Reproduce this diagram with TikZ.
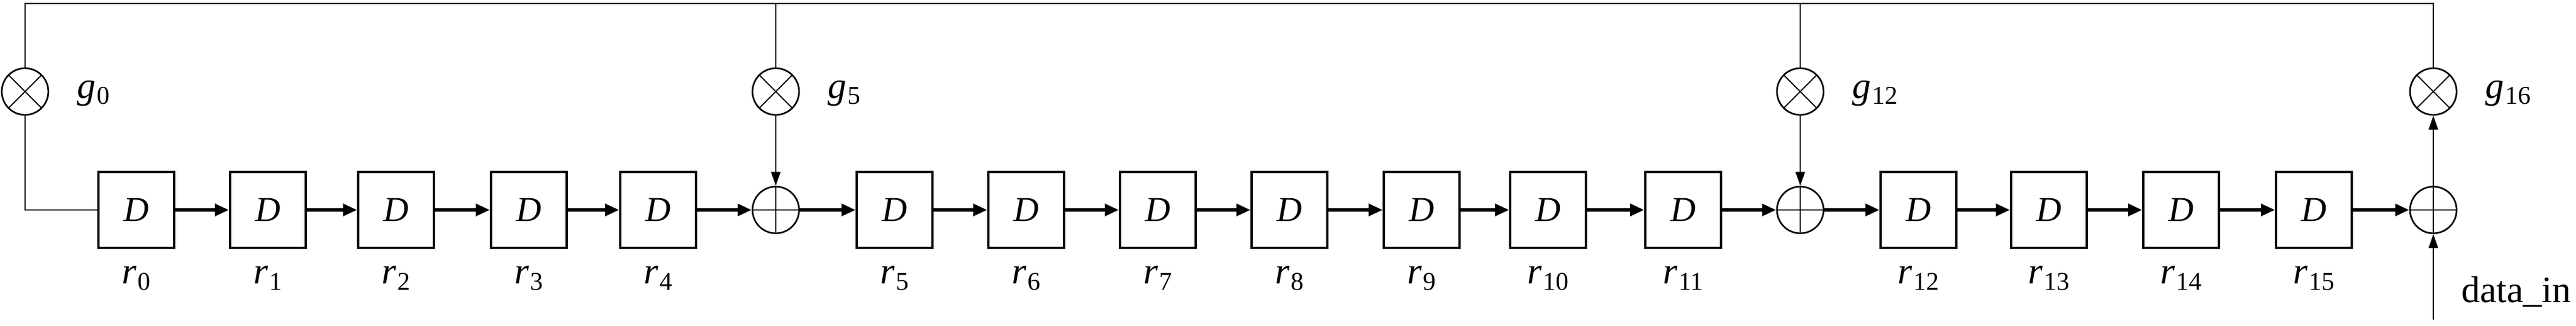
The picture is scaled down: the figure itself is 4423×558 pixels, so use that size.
\documentclass[tikz,border=0pt]{standalone}
\usepackage{fontspec}
\setmainfont{Liberation Serif}
\usetikzlibrary{arrows.meta}
\newcommand{\sublbl}[2]{\textit{#1}\kern0.5pt\raisebox{-0.35ex}{\fontsize{11}{11}\selectfont #2}}
\begin{document}
\begin{tikzpicture}[x=0.25pt,y=-0.25pt,
  reg/.style={draw,line width=0.9pt,minimum width=32.5pt,minimum height=32.5pt,inner sep=0pt,font=\fontsize{15}{15}\selectfont\itshape},
  mul/.style={draw,circle,line width=0.7pt,minimum size=20pt,inner sep=0pt,
    path picture={\draw[line width=0.5pt] (path picture bounding box.south west)--(path picture bounding box.north east)
      (path picture bounding box.north west)--(path picture bounding box.south east);}},
  add/.style={draw,circle,line width=0.7pt,minimum size=20pt,inner sep=0pt,
    path picture={\draw[line width=0.5pt] (path picture bounding box.west)--(path picture bounding box.east)
      (path picture bounding box.north)--(path picture bounding box.south);}},
  lbl/.style={font=\fontsize{16}{16}\selectfont},
  thin/.style={line width=0.7pt},
  fw/.style={line width=1.4pt,-{Triangle[length=6pt,width=5pt]}},
  vw/.style={line width=0.7pt,-{Triangle[length=6pt,width=4pt]}}]
\useasboundingbox (0,0) rectangle (4423,558);
% registers
\foreach \i/\x in {0/234,1/460,2/680,3/908,4/1130,5/1536,6/1762,7/1988,8/2214,9/2441,10/2658,11/2890,12/3294,13/3518,14/3745,15/3973}{
  \node[reg] (r\i) at (\x,360) {D};
  \node[lbl] (l\i) at (\x,477) {\sublbl{r}{\i}};
}
% multipliers
\foreach \i/\x in {0/43,5/1332,12/3091,16/4178}{
  \node[mul] (g\i) at (\x,157) {};
  \node[lbl,anchor=west] (m\i) at (\x+75,160) {\sublbl{g}{\i}};
}
\node[add] (a5) at (1332,360) {};
\node[add] (a12) at (3091,360) {};
\node[add] (a16) at (4178,360) {};
\coordinate (tl) at (43,6);
\coordinate (tr) at (4178,6);
\coordinate (in) at (4178,548);
\node[lbl,anchor=west] (din) at (4212,500) {data\_in};
% top bus
\draw[thin] (g0.north) -- (tl) -- (tr) -- (g16.north);
\draw[thin] (g5.north) -- (g5.north|-tl);
\draw[thin] (g12.north) -- (g12.north|-tl);
% g0 feedback
\draw[thin] (g0.south) |- (r0.west);
% chain
\foreach \a/\b in {r0/r1,r1/r2,r2/r3,r3/r4,r4/a5,a5/r5,r5/r6,r6/r7,r7/r8,r8/r9,r9/r10,r10/r11,r11/a12,a12/r12,r12/r13,r13/r14,r14/r15,r15/a16}
  \draw[fw] (\a) -- (\b);
\draw[vw] (g5) -- (a5);
\draw[vw] (g12) -- (a12);
\draw[vw] (a16) -- (g16);
\draw[vw] (in) -- (a16);
\end{tikzpicture}
\end{document}
